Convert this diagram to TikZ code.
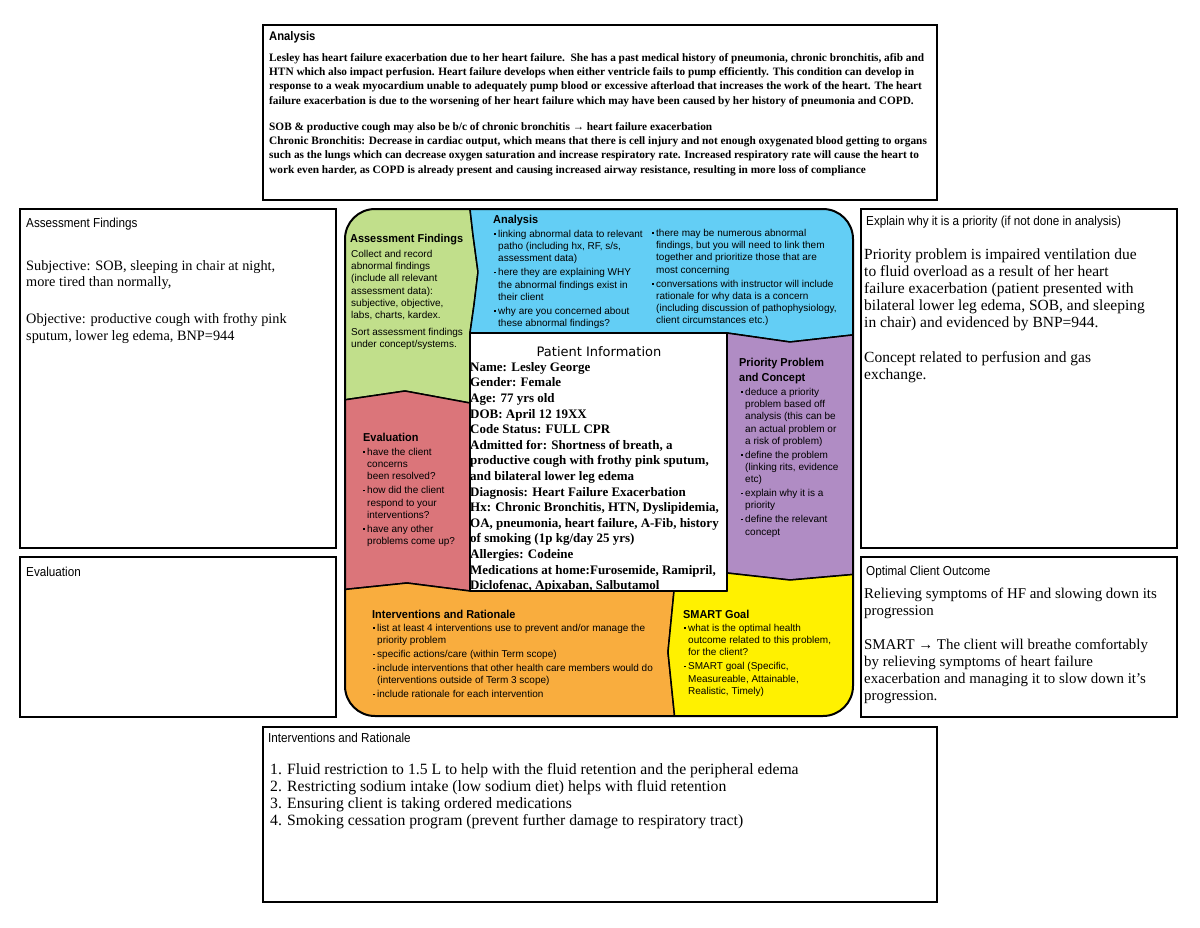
\documentclass[tikz,border=0pt]{standalone}
\usepackage{fontspec}
\setmainfont{Liberation Serif}
\setsansfont{Liberation Sans}
\newfontfamily\nsans{Liberation Sans}[FakeStretch=0.95]
\newfontfamily\tsans{Liberation Sans}[FakeStretch=0.9]
\newfontfamily\dsans{DejaVu Sans}
\definecolor{cgreen}{RGB}{193,223,139}
\definecolor{cblue}{RGB}{99,206,245}
\definecolor{cred}{RGB}{219,117,122}
\definecolor{cpurple}{RGB}{176,140,196}
\definecolor{corange}{RGB}{249,173,62}
\definecolor{cyellow}{RGB}{255,241,0}
\newcommand\bul{\makebox[4pt][l]{\rule[2.4pt]{1.7pt}{1.7pt}}}
\newcommand\ind{\hspace*{4pt}}
\tikzset{
  outerbox/.style={draw, line width=1.6, fill=white},
  region/.style={draw, line width=1.5, line join=round},
  otitle/.style={anchor=west, inner sep=0, font=\tsans\fontsize{13}{15}\selectfont},
  obody/.style={anchor=north west, inner sep=0, align=left, font=\fontsize{14}{16.8}\selectfont},
  ctitle/.style={anchor=west, inner sep=0, align=left, font=\nsans\bfseries\fontsize{11.5}{14.8}\selectfont},
  cbody/.style={anchor=north west, inner sep=0, align=left, font=\sffamily\fontsize{10}{12.2}\selectfont},
  pbody/.style={anchor=north west, inner sep=0, align=left, font=\bfseries\fontsize{13}{15.6}\selectfont},
  abody/.style={anchor=north west, inner sep=0, align=left, font=\bfseries\fontsize{11.3}{14.4}\selectfont},
}
\begin{document}
\begin{tikzpicture}[x=1pt,y=-1pt]
\useasboundingbox[fill=white] (0,0) rectangle (1200,927);

% ---------- outer boxes ----------
\draw[outerbox] (263,25) rectangle (937,200);
\node[otitle, font=\tsans\bfseries\fontsize{12.5}{15}\selectfont] (anT) at (269,37) {Analysis};
\node[abody] (anB1) at (269,53) {Lesley has heart failure exacerbation due to her heart failure.\ \ She has a past medical history of pneumonia, chronic bronchitis, afib and\\
HTN which also impact perfusion. Heart failure develops when either ventricle fails to pump efficiently. This condition can develop in\\
response to a weak myocardium unable to adequately pump blood or excessive afterload that increases the work of the heart. The heart\\
failure exacerbation is due to the worsening of her heart failure which may have been caused by her history of pneumonia and COPD.};
\node[abody] (anB2) at (269,122) {SOB \& productive cough may also be b/c of chronic bronchitis → heart failure exacerbation\\
Chronic Bronchitis: Decrease in cardiac output, which means that there is cell injury and not enough oxygenated blood getting to organs\\
such as the lungs which can decrease oxygen saturation and increase respiratory rate. Increased respiratory rate will cause the heart to\\
work even harder, as COPD is already present and causing increased airway resistance, resulting in more loss of compliance};

\draw[outerbox] (20,209) rectangle (336,548);
\node[otitle] (afT) at (26,224) {Assessment Findings};
\node[obody, font=\fontsize{14.3}{16.8}\selectfont] (afB1) at (26,260) {Subjective: SOB, sleeping in chair at night,\\ more tired than normally,};
\node[obody, font=\fontsize{14.3}{16.8}\selectfont] (afB2) at (26,313) {Objective: productive cough with frothy pink\\ sputum, lower leg edema, BNP=944};

\draw[outerbox] (20,557) rectangle (336,717);
\node[otitle] (evT) at (26,572) {Evaluation};

\draw[outerbox] (861,209) rectangle (1177,548);
\node[otitle] (exT) at (866,222) {Explain why it is a priority (if not done in analysis)};
\node[obody, font=\fontsize{15.5}{16.9}\selectfont] (exB1) at (864,249) {Priority problem is impaired ventilation due\\ to fluid overload as a result of her heart\\ failure exacerbation (patient presented with\\ bilateral lower leg edema, SOB, and sleeping\\ in chair) and evidenced by BNP=944.};
\node[obody, font=\fontsize{15.5}{16.9}\selectfont] (exB2) at (864,351) {Concept related to perfusion and gas\\ exchange.};

\draw[outerbox] (861,557) rectangle (1177,717);
\node[otitle] (ocT) at (866,572) {Optimal Client Outcome};
\node[obody, font=\fontsize{14.9}{16.9}\selectfont] (ocB1) at (864,588) {Relieving symptoms of HF and slowing down its\\ progression};
\node[obody, font=\fontsize{14.9}{16.9}\selectfont] (ocB2) at (864,639) {SMART → The client will breathe comfortably\\ by relieving symptoms of heart failure\\ exacerbation and managing it to slow down it’s\\ progression.};

\draw[outerbox] (263,727) rectangle (937,902);
\node[otitle] (irT) at (268,738) {Interventions and Rationale};
\node[obody, font=\fontsize{15.7}{17}\selectfont] (irB) at (270,763) {1. Fluid restriction to 1.5 L to help with the fluid retention and the peripheral edema\\
2. Restricting sodium intake (low sodium diet) helps with fluid retention\\
3. Ensuring client is taking ordered medications\\
4. Smoking cessation program (prevent further damage to respiratory tract)};

% ---------- central graphic ----------
\begin{scope}
\clip[rounded corners=30] (345,209) rectangle (853,716);
\path[region, fill=cgreen] (330,195) -- (470,195) -- (470,209) -- (473,235) -- (478,272) -- (474,305) -- (470,333) -- (470,403) -- (405,391) -- (330,402) -- cycle;
\path[region, fill=cblue] (470,195) -- (870,195) -- (870,333) -- (790,342) -- (727,333) -- (470,333) -- (474,305) -- (478,272) -- (473,235) -- (470,209) -- cycle;
\path[region, fill=cpurple] (727,333) -- (790,342) -- (870,333) -- (870,573) -- (790,580) -- (727,573) -- cycle;
\path[region, fill=cred] (330,402) -- (405,391) -- (470,403) -- (470,591) -- (407,583) -- (330,591) -- cycle;
\path[region, fill=corange] (330,591) -- (407,583) -- (470,591) -- (674,591) -- (668,652) -- (676,730) -- (330,730) -- cycle;
\path[region, fill=cyellow] (727,573) -- (790,580) -- (870,573) -- (870,730) -- (676,730) -- (668,652) -- (674,591) -- (727,591) -- cycle;
\path[region, fill=white] (470,333) rectangle (727,591);
\end{scope}
\draw[line width=2, rounded corners=30] (345,209) rectangle (853,716);

% green
\node[ctitle] (gT) at (350,240) {Assessment Findings};
\node[cbody] (gB1) at (351,250) {Collect and record\\ abnormal findings\\ (include all relevant\\ assessment data):\\ subjective, objective,\\ labs, charts, kardex.};
\node[cbody] (gB2) at (351,328) {Sort assessment findings\\ under concept/systems.};

% blue
\node[ctitle] (bT) at (493,221) {Analysis};
\node[cbody] (bB1) at (494,230) {\bul linking abnormal data to relevant\\ \ind patho (including hx, RF, s/s,\\ \ind assessment data)\\[1.8pt]
\bul here they are explaining WHY\\ \ind the abnormal findings exist in\\ \ind their client\\[1.8pt]
\bul why are you concerned about\\ \ind these abnormal findings?};
\node[cbody] (bB2) at (652,229) {\bul there may be numerous abnormal\\ \ind findings, but you will need to link them\\ \ind together and prioritize those that are\\ \ind most concerning\\[1.8pt]
\bul conversations with instructor will include\\ \ind rationale for why data is a concern\\ \ind (including discussion of pathophysiology,\\ \ind client circumstances etc.)};

% white
\node[anchor=center, inner sep=0, font=\dsans\fontsize{13}{15}\selectfont] (pT) at (599,352) {Patient Information};
\begin{scope}
\clip (470,333) rectangle (727,591);
\node[pbody] (pB) at (470,362) {Name: Lesley George\\ Gender: Female\\ Age: 77 yrs old\\ DOB: April 12 19XX\\ Code Status: FULL CPR\\
Admitted for: Shortness of breath, a\\ productive cough with frothy pink sputum,\\ and bilateral lower leg edema\\
Diagnosis: Heart Failure Exacerbation\\ Hx: Chronic Bronchitis, HTN, Dyslipidemia,\\ OA, pneumonia, heart failure, A-Fib, history\\
of smoking (1p kg/day 25 yrs)\\ Allergies: Codeine\\ Medications at home:Furosemide, Ramipril,\\ Diclofenac, Apixaban, Salbutamol};
\end{scope}

% red
\node[ctitle] (rT) at (363,437) {Evaluation};
\node[cbody] (rB) at (363,448) {\bul have the client\\ \ind concerns\\ \ind been resolved?\\[1.8pt]
\bul how did the client\\ \ind respond to your\\ \ind interventions?\\[1.8pt]
\bul have any other\\ \ind problems come up?};

% purple
\node[ctitle, anchor=north west] (uT) at (739,358) {Priority Problem\\ and Concept};
\node[cbody] (uB) at (741,388) {\bul deduce a priority\\ \ind problem based off\\ \ind analysis (this can be\\ \ind an actual problem or\\ \ind a risk of problem)\\[1.8pt]
\bul define the problem\\ \ind (linking rits, evidence\\ \ind etc)\\[1.8pt]
\bul explain why it is a\\ \ind priority\\[1.8pt]
\bul define the relevant\\ \ind concept};

% orange
\node[ctitle] (oT) at (372,614) {Interventions and Rationale};
\node[cbody] (oB) at (373,624) {\bul list at least 4 interventions use to prevent and/or manage the\\ \ind priority problem\\[1.8pt]
\bul specific actions/care (within Term scope)\\[1.8pt]
\bul include interventions that other health care members would do\\ \ind (interventions outside of Term 3 scope)\\[1.8pt]
\bul include rationale for each intervention};

% yellow
\node[ctitle] (yT) at (683,614) {SMART Goal};
\node[cbody] (yB) at (684,624) {\bul what is the optimal health\\ \ind outcome related to this problem,\\ \ind for the client?\\[1.8pt]
\bul SMART goal (Specific,\\ \ind Measureable, Attainable,\\ \ind Realistic, Timely)};
\end{tikzpicture}
\end{document}
